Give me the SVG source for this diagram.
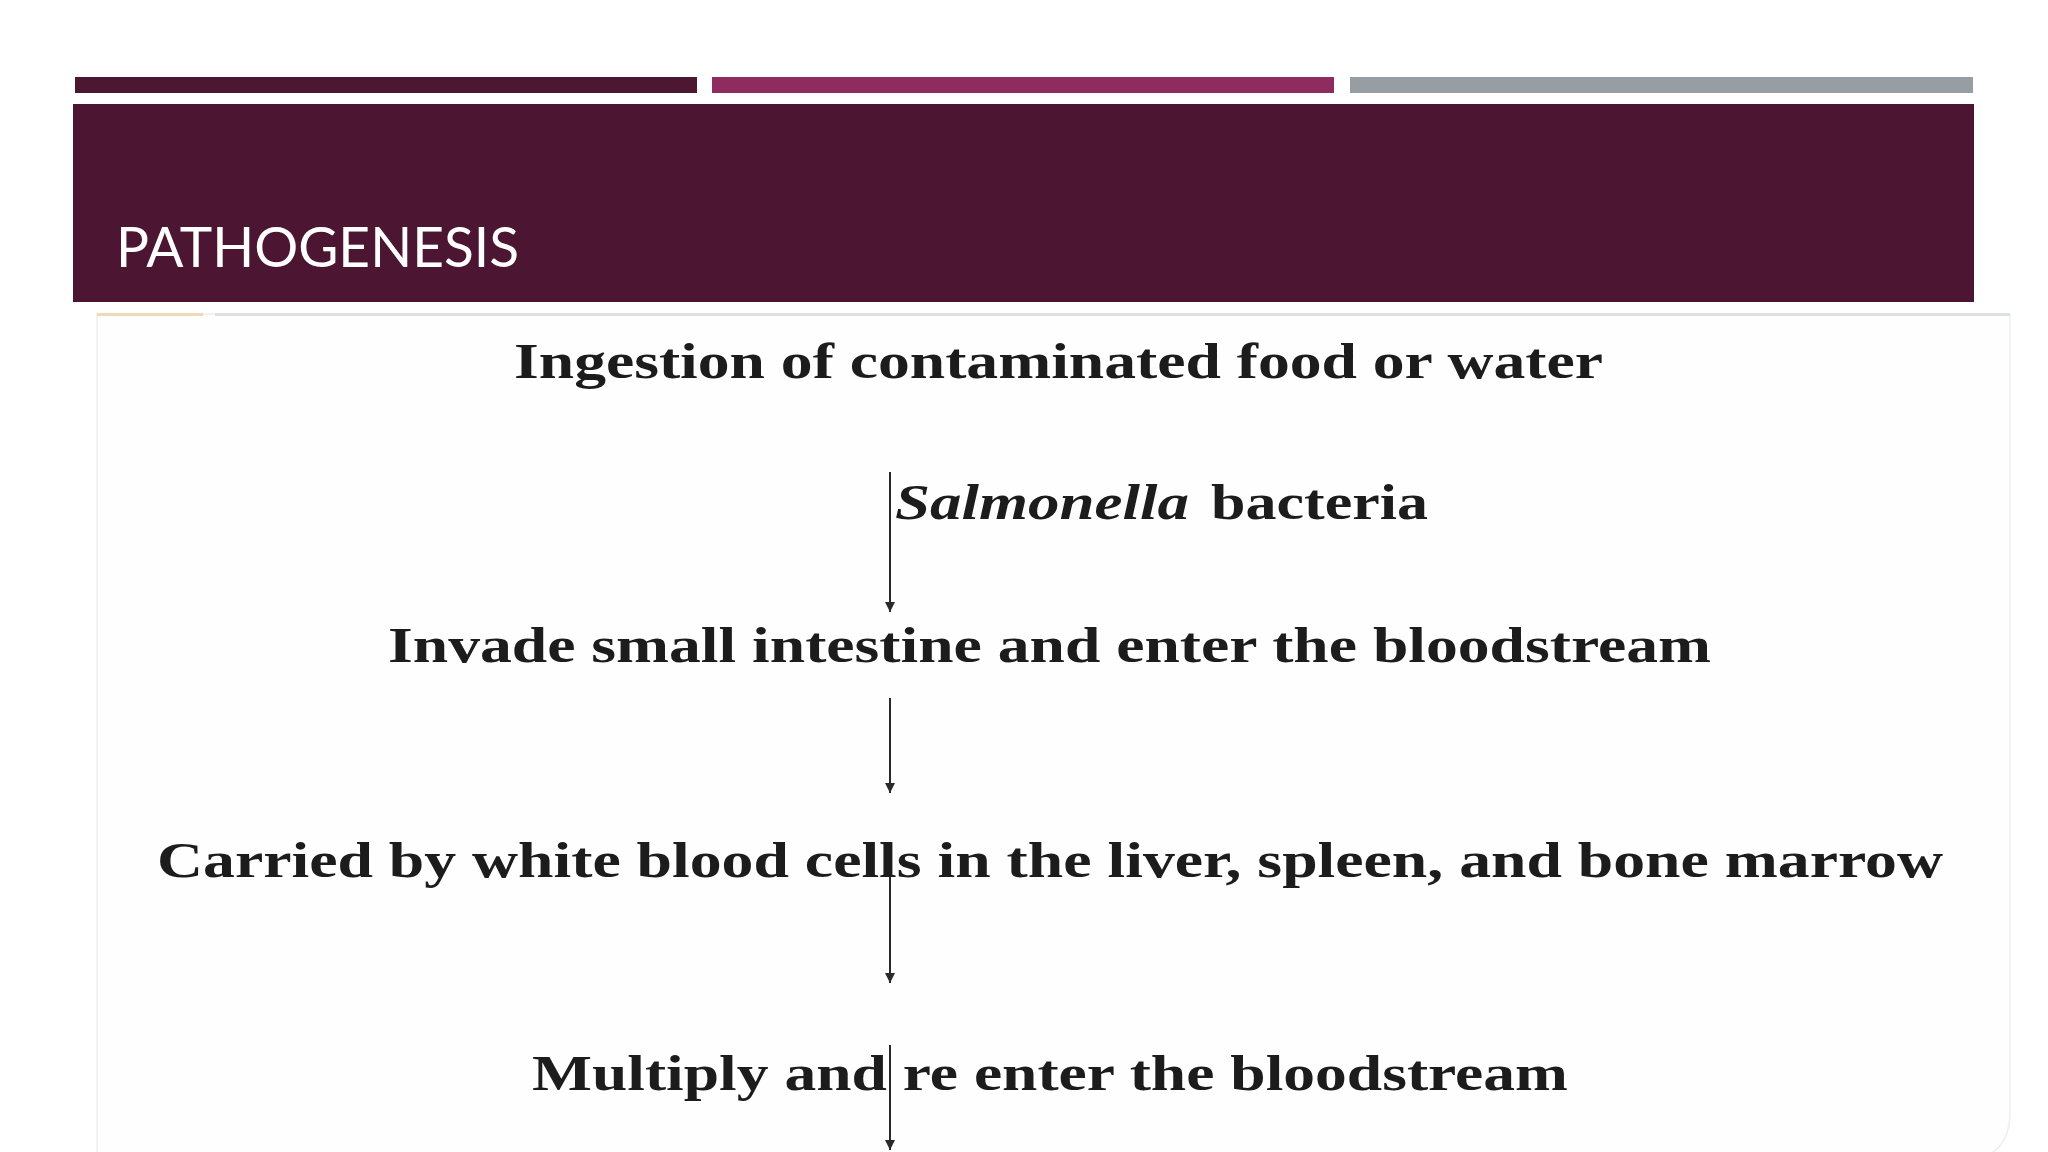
<svg xmlns="http://www.w3.org/2000/svg" width="2048" height="1152" viewBox="0 0 2048 1152">
<defs>
<style>
.step{font-family:"Liberation Serif","Times New Roman",serif;font-weight:bold;font-size:50px;fill:#1c1c1c}
.it{font-style:italic}
.title{font-family:Lato,"Open Sans","Liberation Sans",sans-serif;font-size:57px;fill:#ffffff}
.conn{stroke:#2a2a2a;stroke-width:2;fill:none}
</style>
<marker id="ah" viewBox="0 0 10 10" refX="10" refY="5" markerWidth="10" markerHeight="10" markerUnits="userSpaceOnUse" orient="auto">
<path d="M0,0 L10,5 L0,10 Z" fill="#2a2a2a"/>
</marker>
</defs>
<rect x="0" y="0" width="2048" height="1152" fill="#ffffff"/>
<g id="top-bars">
<rect x="75" y="77" width="622" height="16" fill="#4d1631"/>
<rect x="712" y="77" width="622" height="16" fill="#8e2c60"/>
<rect x="1350" y="77" width="623" height="16" fill="#979ea3"/>
</g>
<g id="header">
<rect x="73" y="104" width="1901" height="198" fill="#4c1532"/>
<text class="title" x="116" y="267" textLength="403" lengthAdjust="spacingAndGlyphs">PATHOGENESIS</text>
</g>
<g id="panel">
<path d="M97,314 L2010,314 L2010,1112 Q2010,1152 1975,1160 L97,1160 Z" fill="#fefefe" stroke="#eceef0" stroke-width="1.5"/>
<rect x="97" y="313" width="106" height="3" fill="#efd9b8"/>
<rect x="215" y="313" width="1795" height="3" fill="#dfe2e5"/>
</g>
<g id="connectors">
<line class="conn" x1="890" y1="472" x2="890" y2="612" marker-end="url(#ah)"/>
<line class="conn" x1="890" y1="698" x2="890" y2="793" marker-end="url(#ah)"/>
<line class="conn" x1="890" y1="868" x2="890" y2="983" marker-end="url(#ah)"/>
<line class="conn" x1="890" y1="1045" x2="890" y2="1150" marker-end="url(#ah)"/>
</g>
<g id="node-ingestion">
<text class="step" x="514" y="378" textLength="1089" lengthAdjust="spacingAndGlyphs">Ingestion of contaminated food or water</text>
</g>
<g id="node-salmonella">
<text class="step it" x="895" y="519" textLength="294" lengthAdjust="spacingAndGlyphs">Salmonella</text>
<text class="step" x="1211" y="519" textLength="217" lengthAdjust="spacingAndGlyphs">bacteria</text>
</g>
<g id="node-invade">
<text class="step" x="388" y="662" textLength="1323" lengthAdjust="spacingAndGlyphs">Invade small intestine and enter the bloodstream</text>
</g>
<g id="node-carried">
<text class="step" x="157" y="877" textLength="1786" lengthAdjust="spacingAndGlyphs">Carried by white blood cells in the liver, spleen, and bone marrow</text>
</g>
<g id="node-multiply">
<text class="step" x="532" y="1090" textLength="1036" lengthAdjust="spacingAndGlyphs">Multiply and re enter the bloodstream</text>
</g>
</svg>
